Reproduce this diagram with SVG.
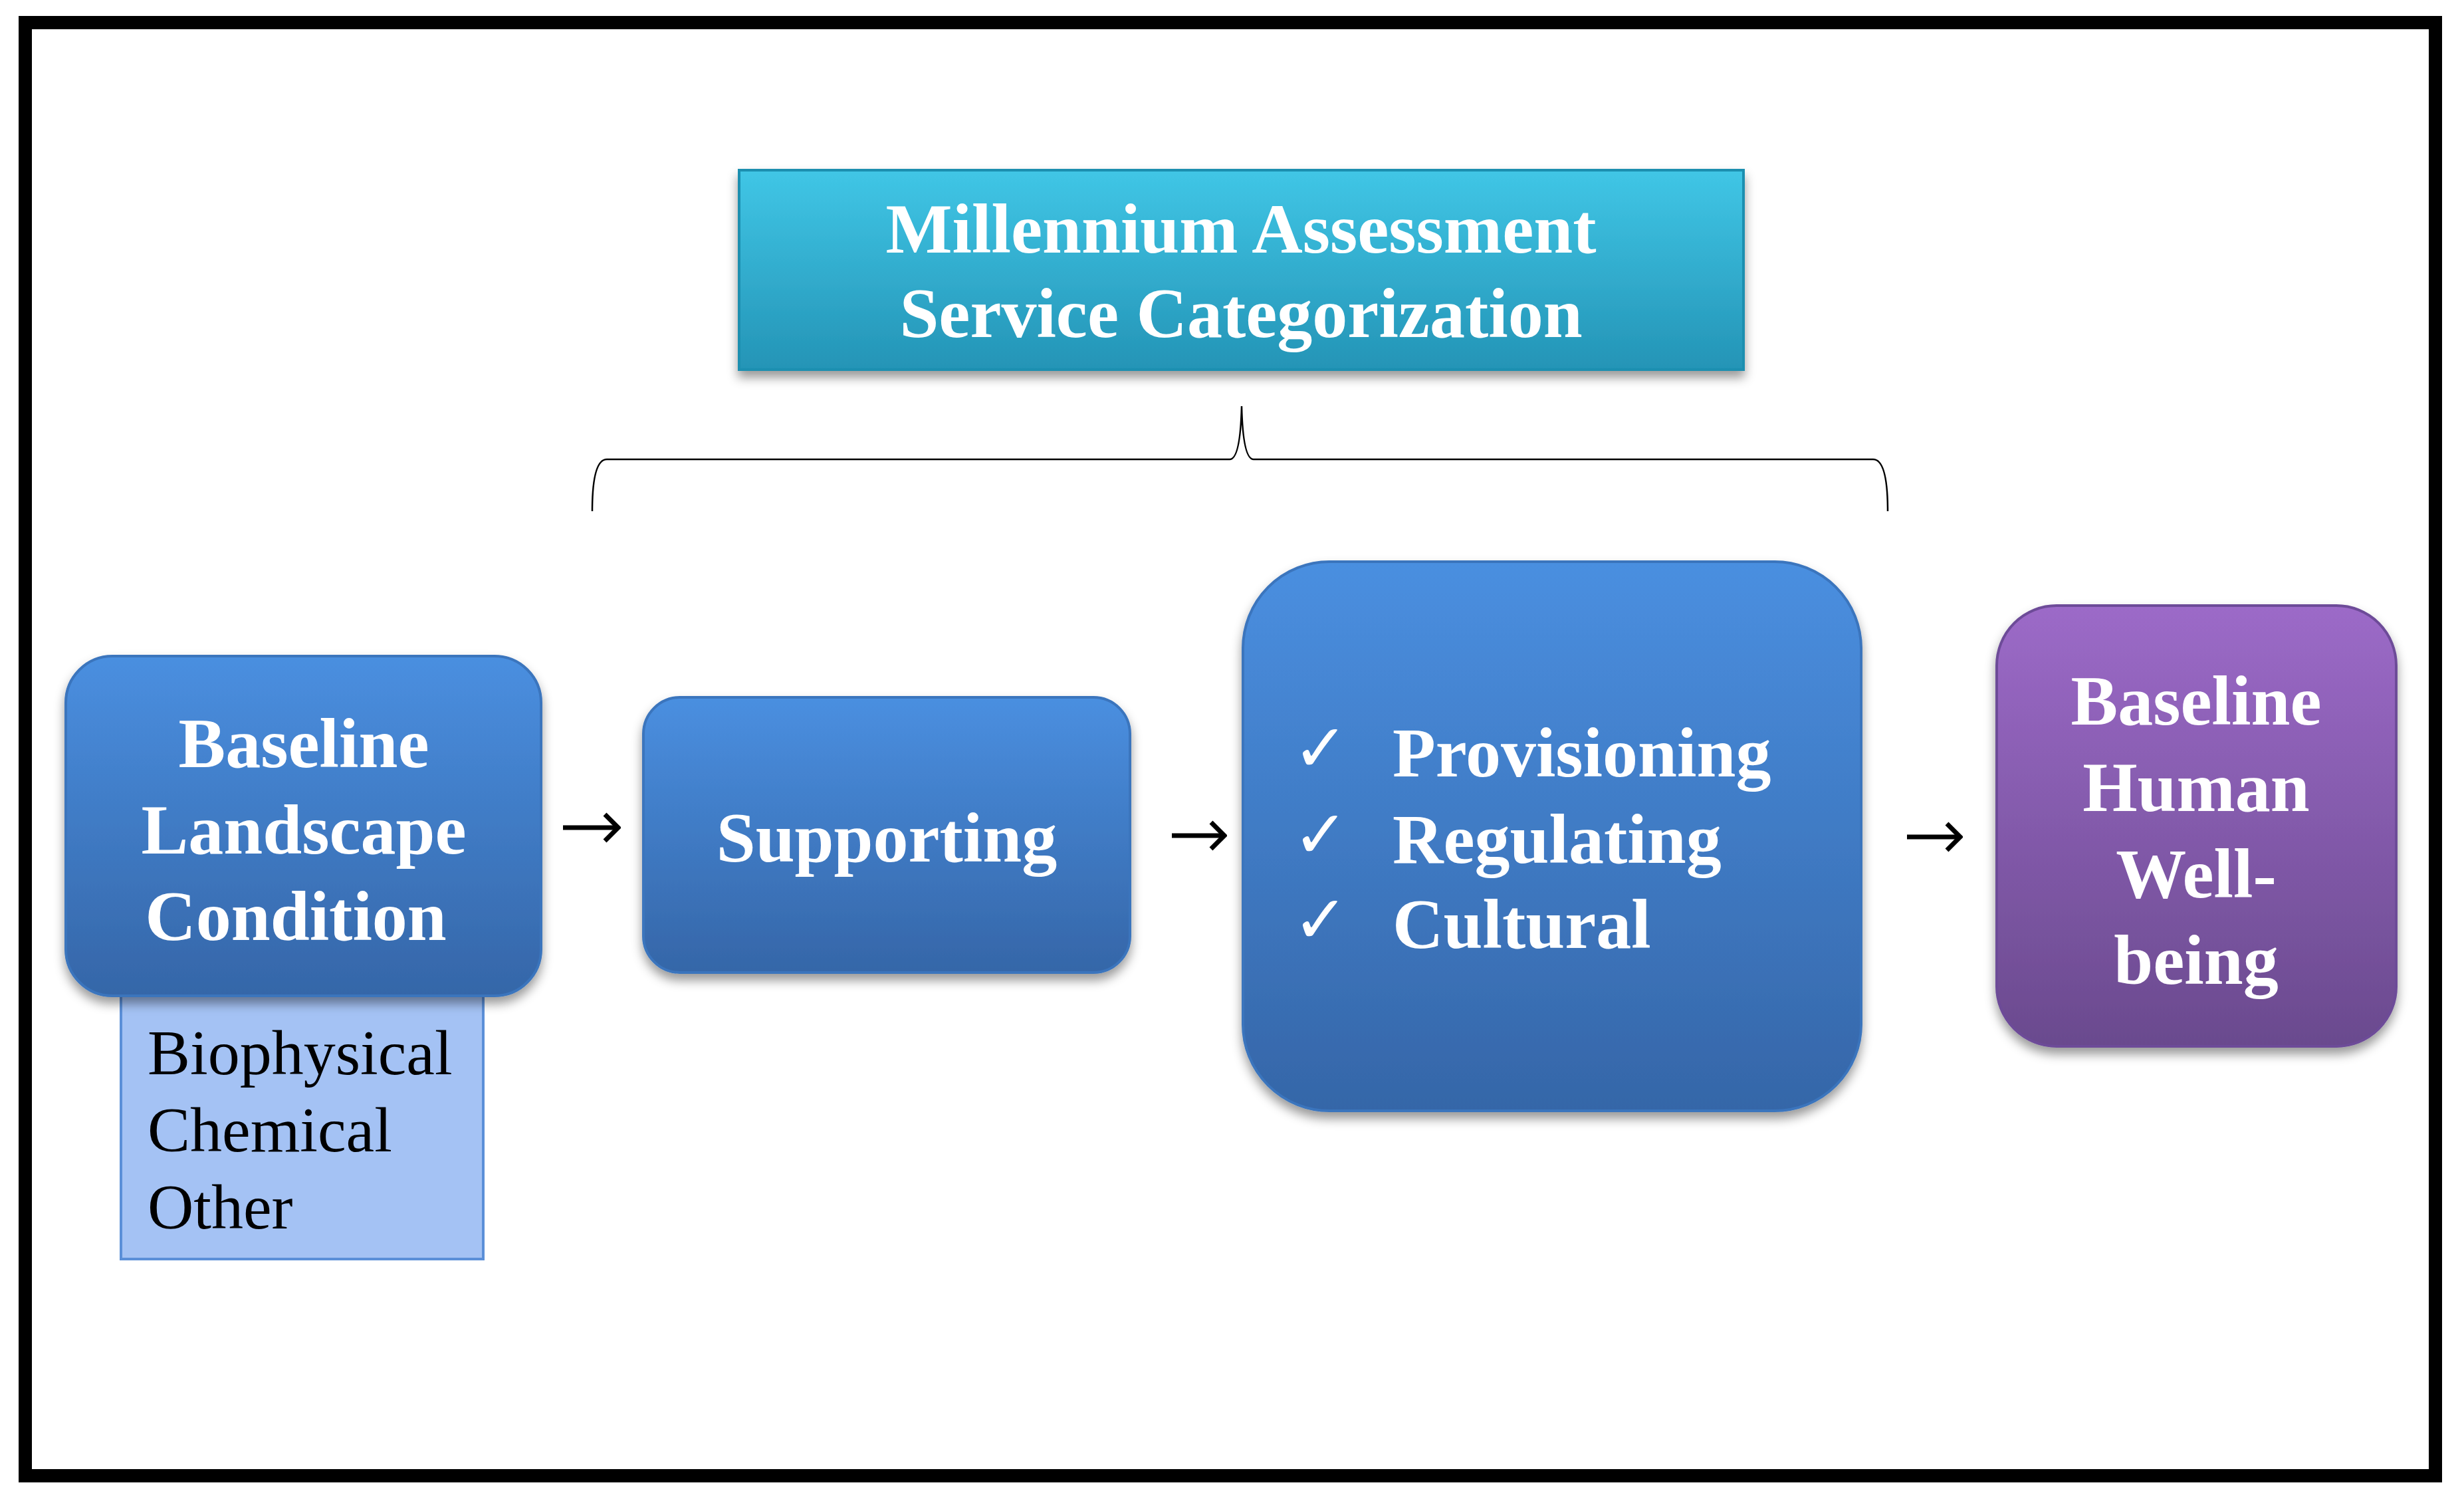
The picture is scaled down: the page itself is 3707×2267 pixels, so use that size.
<svg xmlns="http://www.w3.org/2000/svg" width="3707" height="2267" viewBox="0 0 3707 2267">
<defs>
<linearGradient id="gb" x1="0" y1="0" x2="0" y2="1"><stop offset="0" stop-color="#4a8fe0"/><stop offset="1" stop-color="#3566a8"/></linearGradient>
<linearGradient id="gp" x1="0" y1="0" x2="0" y2="1"><stop offset="0" stop-color="#9c6ac8"/><stop offset="1" stop-color="#6a4a8e"/></linearGradient>
<linearGradient id="gc" x1="0" y1="0" x2="0" y2="1"><stop offset="0" stop-color="#40c6e6"/><stop offset="1" stop-color="#2494b6"/></linearGradient>
<filter id="sh" x="-10%" y="-10%" width="130%" height="130%"><feDropShadow dx="0" dy="10" stdDeviation="8" flood-color="#000" flood-opacity="0.4"/></filter>
<marker id="ar" viewBox="0 0 50 50" refX="46" refY="25" markerWidth="50" markerHeight="50" markerUnits="userSpaceOnUse" orient="auto"><path d="M26,5 L46,25 L26,45" fill="none" stroke="#000" stroke-width="7"/></marker>
</defs>
<style>
.w{font-family:"Liberation Serif",serif;font-weight:bold;fill:#fff;text-anchor:middle}
.n{font-family:"Liberation Serif",serif;fill:#000;font-size:96px}
.c{stroke:#000;stroke-width:7;fill:none}
</style>
<rect width="3707" height="2267" fill="#fff"/>
<rect x="38" y="34" width="3626" height="2186" fill="none" stroke="#000" stroke-width="20"/>
<g id="title"><rect x="1112" y="256" width="1511" height="300" fill="url(#gc)" stroke="#1f8fb0" stroke-width="4" filter="url(#sh)"/>
<text class="w" font-size="106" x="1867" y="380">Millennium Assessment</text>
<text class="w" font-size="106" x="1867" y="507">Service Categorization</text></g>
<g id="brace"><path d="M891,769 Q891,691 913,691 L1850,691 Q1866,691 1868,611 Q1870,691 1886,691 L2818,691 Q2840,691 2840,769" fill="none" stroke="#000" stroke-width="2.5"/></g>
<g id="bio"><rect x="182" y="1498" width="545" height="396" fill="#a4c2f4" stroke="#5b8fd8" stroke-width="4"/>
<text class="n" x="222" y="1616">Biophysical</text><text class="n" x="222" y="1732">Chemical</text><text class="n" x="222" y="1848">Other</text></g>
<g id="baseline"><rect x="99" y="987" width="715" height="511" rx="70" fill="url(#gb)" stroke="#3a74bd" stroke-width="4" filter="url(#sh)"/>
<text class="w" font-size="106" x="457" y="1154">Baseline</text><text class="w" font-size="106" x="457" y="1284">Landscape</text><text class="w" font-size="106" x="445" y="1414">Condition</text></g>
<g id="supporting"><rect x="968" y="1049" width="732" height="414" rx="55" fill="url(#gb)" stroke="#3a74bd" stroke-width="4" filter="url(#sh)"/>
<text class="w" font-size="106" x="1334" y="1296">Supporting</text></g>
<g id="services"><rect x="1870" y="845" width="930" height="826" rx="130" fill="url(#gb)" stroke="#3a74bd" stroke-width="4" filter="url(#sh)"/>
<g font-family="'DejaVu Sans',sans-serif" font-size="100" fill="#fff"><text x="1945" y="1160">✓</text><text x="1945" y="1290">✓</text><text x="1945" y="1418">✓</text></g>
<g class="w" font-size="106" style="text-anchor:start"><text x="2095" y="1168">Provisioning</text><text x="2095" y="1298">Regulating</text><text x="2095" y="1426">Cultural</text></g></g>
<g id="wellbeing"><rect x="3004" y="911" width="601" height="663" rx="90" fill="url(#gp)" stroke="#6d4b98" stroke-width="4" filter="url(#sh)"/>
<text class="w" font-size="106" x="3304" y="1090">Baseline</text><text class="w" font-size="106" x="3304" y="1220">Human</text><text class="w" font-size="106" x="3304" y="1350">Well-</text><text class="w" font-size="106" x="3304" y="1480">being</text></g>
<g id="connectors">
<line class="c" x1="847" y1="1245" x2="930" y2="1245" marker-end="url(#ar)"/>
<line class="c" x1="1763" y1="1257" x2="1842" y2="1257" marker-end="url(#ar)"/>
<line class="c" x1="2869" y1="1259" x2="2949" y2="1259" marker-end="url(#ar)"/>
</g>
</svg>
